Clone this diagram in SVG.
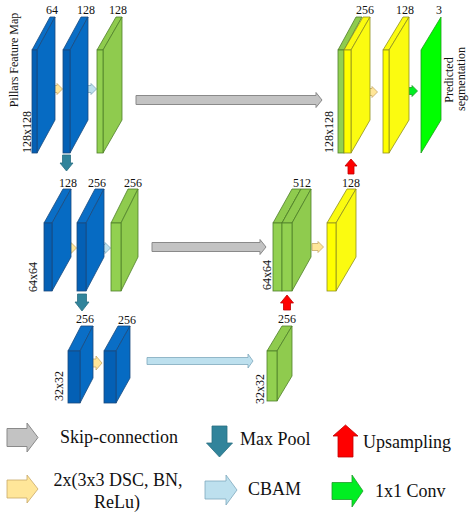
<svg xmlns="http://www.w3.org/2000/svg" width="474" height="521" viewBox="0 0 474 521">
<style>
text{font-family:"Liberation Serif",Tinos,"Times New Roman",Times,"DejaVu Serif",serif;fill:#111}
.n{font-size:12px;text-anchor:middle}
.v{font-size:12px;text-anchor:middle}
.lg{font-size:18px}
.bf{fill:#0460b5;stroke:#1b4a7e;stroke-width:0.8}
.bs{fill:#066bc3;stroke:#1b4a7e;stroke-width:0.8}
.bt{fill:#0a6ec6;stroke:#1b4a7e;stroke-width:0.8}
.gf{fill:#92d050;stroke:#4f7f2a;stroke-width:0.8}
.gs{fill:#8fcb4e;stroke:#4f7f2a;stroke-width:0.8}
.yf{fill:#ffff00;stroke:#8f8f20;stroke-width:0.8}
.ys{fill:#fbfb10;stroke:#8f8f20;stroke-width:0.8}
.pl{fill:#00ff00;stroke:#1c9a1c;stroke-width:0.8}
.a-gray{fill:#c3c3c3;stroke:#8a8a8a;stroke-width:1}
.a-beige{fill:#ffe699;stroke:#c8a868;stroke-width:0.8}
.a-lblue{fill:#bde0ee;stroke:#7fa8bc;stroke-width:0.8}
.a-green{fill:#00ee22;stroke:#1f9a2a;stroke-width:0.8}
.a-teal{fill:#31849b;stroke:#2a6f82;stroke-width:0.8}
.a-red{fill:#ff0000;stroke:#c00000;stroke-width:0.8}
</style>

<g id="connectors">
  <!-- skip connections -->
  <path class="a-gray" d="M136,95.5 H316 V92.5 L322,100 L316,107.5 V104.5 H136 Z"/>
  <path class="a-gray" d="M152,242.5 H260 V239.5 L266,247 L260,254.5 V251.5 H152 Z"/>
  <path class="a-lblue" d="M147,357.5 H248 V354 L253,361 L248,368 V364.5 H147 Z"/>
  <!-- conv arrows -->
  <path class="a-beige" d="M51,85.5 H57 V83.5 L62.5,89 L57,94.5 V92.5 H51 Z"/>
  <path class="a-lblue" d="M85,85.5 H91 V83.5 L96.5,89 L91,94.5 V92.5 H85 Z"/>
  <path class="a-beige" d="M366,88.5 H372 V86.5 L377.5,92 L372,97.5 V95.5 H366 Z"/>
  <path class="a-green" d="M406,87.5 H412 V85.5 L417.5,91 L412,96.5 V94.5 H406 Z"/>
  <path class="a-beige" d="M66,244.5 H71 V242.5 L76.5,248 L71,253.5 V251.5 H66 Z"/>
  <path class="a-lblue" d="M99,244.5 H105 V242.5 L110.5,248 L105,253.5 V251.5 H99 Z"/>
  <path class="a-beige" d="M312,243.5 H318 V241.5 L323.5,247 L318,252.5 V250.5 H312 Z"/>
  <path class="a-beige" d="M89,359 H96 V356 L102,363 L96,370 V367 H89 Z"/>
  <!-- max pool -->
  <path class="a-teal" d="M62.5,155 H70.5 V163 H73 L66.5,171 L60,163 H62.5 Z"/>
  <path class="a-teal" d="M77.5,294 H86.5 V302 H89 L82,311 L75,302 H77.5 Z"/>
  <!-- upsampling -->
  <path class="a-red" d="M351,159 L357,166 H354 V174 H348 V166 H345 Z"/>
  <path class="a-red" d="M287,295 L293.5,303 H290.5 V310 H283.5 V303 H280.5 Z"/>
</g>

<!-- top row -->
<g id="enc1a">
  <polygon class="bt" points="32,50 37,50 55,17 50,17"/>
  <polygon class="bs" points="37,50 55,17 55,120 37,153"/>
  <rect class="bf" x="32" y="50" width="5" height="103"/>
  <text class="n" x="52" y="14">64</text>
</g>
<g id="enc1b">
  <polygon class="bt" points="63,50 70,50 88,17 81,17"/>
  <polygon class="bs" points="70,50 88,17 88,120 70,153"/>
  <rect class="bf" x="63" y="50" width="7" height="103"/>
  <text class="n" x="86" y="14">128</text>
</g>
<g id="enc1c">
  <polygon class="gs" points="97,50 103,50 122,17 116,17"/>
  <polygon class="gs" points="103,50 122,17 122,120 103,153"/>
  <rect class="gf" x="97" y="50" width="6" height="103"/>
  <text class="n" x="118" y="14">128</text>
</g>
<g id="dec1a">
  <polygon class="gs" points="338,50 344,50 362,17 356,17"/>
  <rect class="gf" x="338" y="50" width="6" height="103"/>
  <polygon class="ys" points="344,50 351,50 370,17 363,17"/>
  <polygon class="ys" points="351,50 370,17 370,120 351,153"/>
  <rect class="yf" x="344" y="50" width="7" height="103"/>
  <text class="n" x="365" y="14">256</text>
</g>
<g id="dec1b">
  <polygon class="ys" points="383,50 389,50 409,17 403,17"/>
  <polygon class="ys" points="389,50 409,17 409,120 389,153"/>
  <rect class="yf" x="383" y="50" width="6" height="103"/>
  <text class="n" x="405" y="14">128</text>
</g>
<g id="output">
  <polygon class="pl" points="421,50 441,17 441,120 421,153"/>
  <text class="n" x="439" y="14">3</text>
</g>

<!-- middle row -->
<g id="enc2a">
  <polygon class="bt" points="44,223 52,223 71,189 63,189"/>
  <polygon class="bs" points="52,223 71,189 71,257 52,291"/>
  <rect class="bf" x="44" y="223" width="8" height="68"/>
  <text class="n" x="68" y="187">128</text>
</g>
<g id="enc2b">
  <polygon class="bt" points="77,223 86,223 104,189 95,189"/>
  <polygon class="bs" points="86,223 104,189 104,257 86,291"/>
  <rect class="bf" x="77" y="223" width="9" height="68"/>
  <text class="n" x="97" y="187">256</text>
</g>
<g id="enc2c">
  <polygon class="gs" points="111,223 121,223 138,189 128,189"/>
  <polygon class="gs" points="121,223 138,189 138,257 121,291"/>
  <rect class="gf" x="111" y="223" width="10" height="68"/>
  <text class="n" x="133" y="187">256</text>
</g>
<g id="dec2a">
  <polygon class="gs" points="273,223 282,223 301,189 292,189"/>
  <polygon class="gs" points="282,223 301,189 301,257 282,291"/>
  <rect class="gf" x="273" y="223" width="9" height="68"/>
  <polygon class="gs" points="282,223 292,223 311,189 301,189"/>
  <polygon class="gs" points="292,223 311,189 311,257 292,291"/>
  <rect class="gf" x="282" y="223" width="10" height="68"/>
  <text class="n" x="302" y="187">512</text>
</g>
<g id="dec2b">
  <polygon class="ys" points="327,223 336,223 356,189 347,189"/>
  <polygon class="ys" points="336,223 356,189 356,257 336,291"/>
  <rect class="yf" x="327" y="223" width="9" height="68"/>
  <text class="n" x="351" y="187">128</text>
</g>

<!-- bottom row -->
<g id="enc3a">
  <polygon class="bt" points="68,351 80,351 93,326 81,326"/>
  <polygon class="bs" points="80,351 93,326 93,378 80,403"/>
  <rect class="bf" x="68" y="351" width="12" height="52"/>
  <text class="n" x="85" y="323">256</text>
</g>
<g id="enc3b">
  <polygon class="bt" points="104,351 116,351 130,326 118,326"/>
  <polygon class="bs" points="116,351 130,326 130,378 116,403"/>
  <rect class="bf" x="104" y="351" width="12" height="52"/>
  <text class="n" x="127" y="324">256</text>
</g>
<g id="dec3">
  <polygon class="gs" points="267,351 277,351 292,326 282,326"/>
  <polygon class="gs" points="277,351 292,326 292,376 277,401"/>
  <rect class="gf" x="267" y="351" width="10" height="50"/>
  <text class="n" x="287" y="323">256</text>
</g>

<!-- vertical labels -->
<g id="labels">
  <text class="v" transform="translate(18,60) rotate(-90)">Pillars Feature Map</text>
  <text class="v" transform="translate(31,132) rotate(-90)">128x128</text>
  <text class="v" transform="translate(333,132) rotate(-90)">128x128</text>
  <text class="v" transform="translate(453,80) rotate(-90)">Predicted</text>
  <text class="v" transform="translate(465,79) rotate(-90)">segmentation</text>
  <text class="v" transform="translate(37,277) rotate(-90)">64x64</text>
  <text class="v" transform="translate(271,275) rotate(-90)">64x64</text>
  <text class="v" transform="translate(63,386) rotate(-90)">32x32</text>
  <text class="v" transform="translate(264,389) rotate(-90)">32x32</text>
</g>

<!-- legend -->
<g id="legend">
  <path class="a-gray" d="M7,428.5 H27 V423 L38,437.5 L27,452 V446.5 H7 Z"/>
  <text class="lg" x="60" y="443">Skip-connection</text>
  <path class="a-teal" d="M212,426 H227 V443 H232.5 L219.5,457 L206.5,443 H212 Z"/>
  <text class="lg" x="240" y="445">Max Pool</text>
  <path class="a-red" d="M345.5,425 L358,436 H353 V457 H338 V436 H333 Z"/>
  <text class="lg" x="363" y="448">Upsampling</text>
  <path class="a-beige" d="M7,480 H27 V475 L38,489 L27,503 V498 H7 Z"/>
  <text class="lg" x="118" y="486" text-anchor="middle">2x(3x3 DSC, BN,</text>
  <text class="lg" x="117" y="508" text-anchor="middle">ReLu)</text>
  <path class="a-lblue" d="M205,481 H226 V475 L237,490 L226,505 V499 H205 Z"/>
  <text class="lg" x="248" y="495">CBAM</text>
  <path class="a-green" d="M332,482.5 H352 V475 L363,491 L352,507 V499.5 H332 Z"/>
  <text class="lg" x="375" y="497">1x1 Conv</text>
</g>
</svg>
